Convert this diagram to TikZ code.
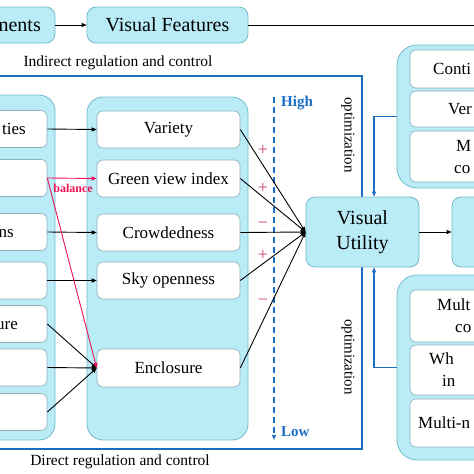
\documentclass[tikz,border=0pt]{standalone}
\usepackage{fontspec}
\setmainfont{Liberation Serif}
\usetikzlibrary{arrows.meta}
\definecolor{lb}{RGB}{185,236,246}
\definecolor{cb}{RGB}{115,185,205}
\definecolor{ib}{RGB}{140,175,185}
\definecolor{bl}{RGB}{25,110,195}
\definecolor{rd}{RGB}{235,20,85}
\definecolor{pm}{RGB}{205,70,110}
\newcommand\fsz[1]{\fontsize{#1}{#1}\selectfont}
\begin{document}
\begin{tikzpicture}[x=1pt,y=-1pt,
  cont/.style={draw=cb, fill=lb, line width=0.8pt, rounded corners=16pt, inner sep=0pt},
  ibox/.style={draw=ib, fill=white, line width=0.6pt, rounded corners=6pt, inner sep=0pt, font=\fsz{17}},
  bbox/.style={draw=cb, fill=lb, line width=0.8pt, rounded corners=9pt, inner sep=0pt, font=\fsz{20}},
  ptxt/.style={inner sep=0pt, font=\fsz{17}},
  arr/.style={-{Triangle[length=5pt,width=4pt]}, line width=0.9pt},
  rarr/.style={-{Triangle[length=5pt,width=4pt]}, line width=0.9pt, draw=rd},
  barr/.style={-{Triangle[length=5pt,width=4pt]}, line width=1.2pt, draw=bl},
  bline/.style={line width=1.2pt, draw=bl},
  pmsign/.style={text=pm, font=\fsz{18}, inner sep=0pt},
  note/.style={font=\fsz{15.5}, inner sep=0pt},
  opt/.style={font=\fsz{15}, inner sep=0pt, rotate=-90},
  hl/.style={font=\fsz{15}\bfseries, text=bl, inner sep=0pt}
]
\useasboundingbox (0,0) rectangle (474,474);
\clip (0,0) rectangle (474,474);

% blue frame
\coordinate (fa) at (-5,76);
\coordinate (fb) at (362,76);
\coordinate (fc) at (362,449);
\coordinate (fd) at (-5,449);
\draw[bline] (fa) -- (fb) -- (fc) -- (fd);

% top row
\node[bbox, minimum width=95, minimum height=36] (TB1) at (7.5,25) {};
\node[ptxt, font=\fsz{20}, anchor=base east] (TB1t) at (41,31.5) {ments};
\node[bbox, minimum width=161, minimum height=36] (VF) at (167.5,25) {Visual Features};
\coordinate (vfend) at (480,25);
\draw[arr] (TB1.east) -- (VF.west);
\draw[line width=0.9pt] (VF.east) -- (vfend);

\node[note] (ind) at (118,63) {Indirect regulation and control};
\node[note] (dir) at (120,462) {Direct regulation and control};

% left container
\node[cont, minimum width=95, minimum height=345] (LC) at (7.5,267.5) {};
\foreach \n/\y in {L1/129,L2/178,L3/232,L4/280.5,L5/324,L6/367.5,L7/412}{
  \node[ibox, minimum width=77, minimum height=37] (\n) at (8.5,\y) {};
}
\node[ptxt, anchor=base east] (L1t) at (26,134.5) {ties};
\node[ptxt, anchor=base east] (L3t) at (14,237.5) {ns};
\node[ptxt, anchor=base east] (L5t) at (18,329.5) {ure};

% middle container
\node[cont, minimum width=161, minimum height=343] (MC) at (167.5,268.5) {};
\node[ibox, minimum width=143, minimum height=37] (Var) at (168.5,129.5) {Variety};
\node[ibox, minimum width=143, minimum height=37] (Grn) at (168.5,178.5) {Green view index};
\node[ibox, minimum width=143, minimum height=37] (Crd) at (168.5,232.5) {Crowdedness};
\node[ibox, minimum width=143, minimum height=37] (Sky) at (168.5,280.5) {Sky openness};
\node[ibox, minimum width=143, minimum height=38] (Enc) at (168.5,368) {Enclosure};

% left -> middle
\draw[arr] (L1.east) -- (Var.west);
\draw[arr] (L3.east) -- (Crd.west);
\draw[arr] (L4.east) -- (Sky.west);
\draw[arr] (L5.east) -- (Enc.west);
\draw[arr] (L6.east) -- (Enc.west);
\draw[arr] (L7.east) -- (Enc.west);
\draw[rarr] (L2.east) -- (Grn.west);
\draw[rarr] (L2.east) -- (Enc.west);
\node[font=\fsz{12}\bfseries, text=rd, inner sep=0pt] (bal) at (73,188) {balance};

% dashed high-low
\coordinate (dtop) at (274,97);
\coordinate (dbot) at (274,440);
\draw[bl, line width=1.2pt, dash pattern=on 6pt off 4pt, -{Triangle[length=5pt,width=4pt]}] (dtop) -- (dbot);
\node[hl, anchor=west] (high) at (281,103) {High};
\node[hl, anchor=west] (low) at (281,432) {Low};

% visual utility
\node[bbox, minimum width=113, minimum height=70, align=center, font=\fontsize{20}{25}\selectfont] (VU) at (362.5,232) {Visual\\Utility};
\draw[arr] (Var.east) -- (VU.west);
\draw[arr] (Grn.east) -- (VU.west);
\draw[arr] (Crd.east) -- (VU.west);
\draw[arr] (Sky.east) -- (VU.west);
\draw[arr] (Enc.east) -- (VU.west);
\node[pmsign] (p1) at (263,150) {+};
\node[pmsign] (p2) at (263,188) {+};
\node[pmsign] (p3) at (263,225) {−};
\node[pmsign] (p4) at (263,255) {+};
\node[pmsign] (p5) at (263,302) {−};

\node[opt] (opt1) at (348,135) {optimization};
\node[opt] (opt2) at (348,357) {optimization};

% right middle box
\node[bbox, minimum width=68, minimum height=70] (RM) at (486,232) {};
\draw[arr] (VU.east) -- (RM.west);

% top-right container
\node[cont, rounded corners=20pt, minimum width=123, minimum height=143] (TRC) at (458.5,116.5) {};
\node[ibox, minimum width=120, minimum height=38] (T1) at (470,69) {};
\node[ibox, minimum width=120, minimum height=36] (T2) at (470,109) {};
\node[ibox, minimum width=120, minimum height=51] (T3) at (470,156.5) {};
\node[ptxt, anchor=base west] (T1t) at (433,74.5) {Conti};
\node[ptxt, anchor=base west] (T2t) at (448,114.5) {Ver};
\node[ptxt, anchor=base west] (T3a) at (456,151) {M};
\node[ptxt, anchor=base west] (T3b) at (454,173) {co};

% bottom-right container
\node[cont, rounded corners=20pt, minimum width=123, minimum height=185] (BRC) at (458.5,367.5) {};
\node[ibox, minimum width=120, minimum height=52] (B1) at (470,316) {};
\node[ibox, minimum width=120, minimum height=50] (B2) at (470,370) {};
\node[ibox, minimum width=120, minimum height=48] (B3) at (470,423) {};
\node[ptxt, anchor=base west] (B1a) at (437,310.5) {Mult};
\node[ptxt, anchor=base west] (B1b) at (455,332.5) {co};
\node[ptxt, anchor=base west] (B2a) at (429,364.5) {Wh};
\node[ptxt, anchor=base west] (B2b) at (442,386.5) {in};
\node[ptxt, anchor=base west] (B3a) at (418,428.5) {Multi-n};

% blue feedback arrows
\coordinate (ta) at (374,116.5);
\coordinate (ba) at (374,367.5);
\draw[barr] (TRC.west) -- (ta) -- (ta |- VU.north);
\draw[barr] (BRC.west) -- (ba) -- (ba |- VU.south);
\end{tikzpicture}
\end{document}
